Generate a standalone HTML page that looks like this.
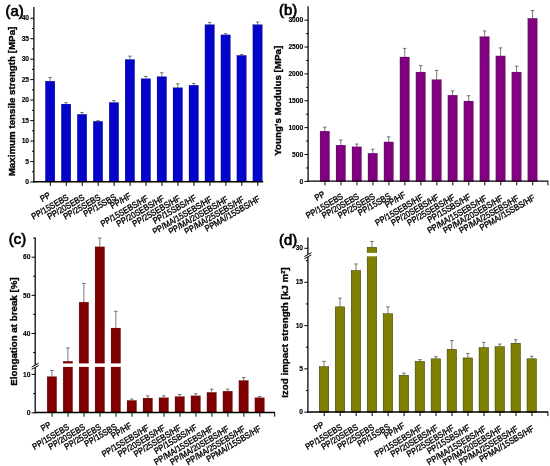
<!DOCTYPE html>
<html lang="en">
<head>
<meta charset="utf-8">
<title>Mechanical properties of PP composites</title>
<style>
html,body{margin:0;padding:0;background:#fff;}
body{width:550px;height:466px;overflow:hidden;}
svg{display:block;filter:blur(0.45px);}
text{font-family:"Liberation Sans",Arial,sans-serif;fill:#000;}
.xl{font-size:8.75px;stroke:#000;stroke-width:0.35px;}
.tl{font-size:7.3px;font-weight:bold;stroke:#000;stroke-width:0.12px;}
.yl{font-weight:bold;stroke:#000;stroke-width:0.35px;}
.pl{font-size:14px;stroke:#000;stroke-width:0.7px;font-family:"Liberation Sans","DejaVu Sans",sans-serif;}
.ax{stroke:#000;stroke-width:1.25px;}
.tk{stroke:#000;stroke-width:1.0;}
.eb{stroke:#2a2a2a;stroke-width:0.62;}
</style>
</head>
<body>
<svg width="550" height="466" viewBox="0 0 550 466">
<rect x="0" y="0" width="550" height="466" fill="#fff"/>
<line class="eb" x1="50.1" y1="81.13" x2="50.1" y2="77.45"/>
<line class="eb" x1="48.3" y1="77.45" x2="51.9" y2="77.45"/>
<rect x="45.33" y="81.13" width="9.55" height="100.87" fill="#0303ca" stroke="#000" stroke-opacity="0.55" stroke-width="0.3"/>
<line class="eb" x1="66.06" y1="104.07" x2="66.06" y2="102.63"/>
<line class="eb" x1="64.26" y1="102.63" x2="67.86" y2="102.63"/>
<rect x="61.29" y="104.07" width="9.55" height="77.93" fill="#0303ca" stroke="#000" stroke-opacity="0.55" stroke-width="0.3"/>
<line class="eb" x1="82.02" y1="114.3" x2="82.02" y2="112.46"/>
<line class="eb" x1="80.22" y1="112.46" x2="83.82" y2="112.46"/>
<rect x="77.25" y="114.3" width="9.55" height="67.7" fill="#0303ca" stroke="#000" stroke-opacity="0.55" stroke-width="0.3"/>
<line class="eb" x1="97.98" y1="121.26" x2="97.98" y2="120.65"/>
<line class="eb" x1="96.18" y1="120.65" x2="99.78" y2="120.65"/>
<rect x="93.2" y="121.26" width="9.55" height="60.74" fill="#0303ca" stroke="#000" stroke-opacity="0.55" stroke-width="0.3"/>
<line class="eb" x1="113.94" y1="102.43" x2="113.94" y2="100.58"/>
<line class="eb" x1="112.14" y1="100.58" x2="115.74" y2="100.58"/>
<rect x="109.16" y="102.43" width="9.55" height="79.57" fill="#0303ca" stroke="#000" stroke-opacity="0.55" stroke-width="0.3"/>
<line class="eb" x1="129.9" y1="59.43" x2="129.9" y2="56.15"/>
<line class="eb" x1="128.1" y1="56.15" x2="131.7" y2="56.15"/>
<rect x="125.12" y="59.43" width="9.55" height="122.57" fill="#0303ca" stroke="#000" stroke-opacity="0.55" stroke-width="0.3"/>
<line class="eb" x1="145.86" y1="78.68" x2="145.86" y2="76.42"/>
<line class="eb" x1="144.06" y1="76.42" x2="147.66" y2="76.42"/>
<rect x="141.09" y="78.68" width="9.55" height="103.32" fill="#0303ca" stroke="#000" stroke-opacity="0.55" stroke-width="0.3"/>
<line class="eb" x1="161.82" y1="76.63" x2="161.82" y2="72.74"/>
<line class="eb" x1="160.02" y1="72.74" x2="163.62" y2="72.74"/>
<rect x="157.04" y="76.63" width="9.55" height="105.37" fill="#0303ca" stroke="#000" stroke-opacity="0.55" stroke-width="0.3"/>
<line class="eb" x1="177.78" y1="87.69" x2="177.78" y2="83.8"/>
<line class="eb" x1="175.98" y1="83.8" x2="179.58" y2="83.8"/>
<rect x="173" y="87.69" width="9.55" height="94.31" fill="#0303ca" stroke="#000" stroke-opacity="0.55" stroke-width="0.3"/>
<line class="eb" x1="193.74" y1="85.23" x2="193.74" y2="83.39"/>
<line class="eb" x1="191.94" y1="83.39" x2="195.54" y2="83.39"/>
<rect x="188.97" y="85.23" width="9.55" height="96.77" fill="#0303ca" stroke="#000" stroke-opacity="0.55" stroke-width="0.3"/>
<line class="eb" x1="209.7" y1="24.62" x2="209.7" y2="22.37"/>
<line class="eb" x1="207.9" y1="22.37" x2="211.5" y2="22.37"/>
<rect x="204.93" y="24.62" width="9.55" height="157.38" fill="#0303ca" stroke="#000" stroke-opacity="0.55" stroke-width="0.3"/>
<line class="eb" x1="225.66" y1="34.86" x2="225.66" y2="33.63"/>
<line class="eb" x1="223.86" y1="33.63" x2="227.46" y2="33.63"/>
<rect x="220.88" y="34.86" width="9.55" height="147.14" fill="#0303ca" stroke="#000" stroke-opacity="0.55" stroke-width="0.3"/>
<line class="eb" x1="241.62" y1="55.34" x2="241.62" y2="54.52"/>
<line class="eb" x1="239.82" y1="54.52" x2="243.42" y2="54.52"/>
<rect x="236.84" y="55.34" width="9.55" height="126.66" fill="#0303ca" stroke="#000" stroke-opacity="0.55" stroke-width="0.3"/>
<line class="eb" x1="257.58" y1="24.62" x2="257.58" y2="21.96"/>
<line class="eb" x1="255.78" y1="21.96" x2="259.38" y2="21.96"/>
<rect x="252.81" y="24.62" width="9.55" height="157.38" fill="#0303ca" stroke="#000" stroke-opacity="0.55" stroke-width="0.3"/>
<line class="ax" x1="33.9" y1="7" x2="33.9" y2="182.5"/>
<line class="tk" x1="30.3" y1="182" x2="33.9" y2="182"/>
<text class="tl" transform="translate(29.1,184.15) scale(0.92,1)" text-anchor="end">0</text>
<line class="tk" x1="31.9" y1="171.76" x2="33.9" y2="171.76"/>
<line class="tk" x1="30.3" y1="161.53" x2="33.9" y2="161.53"/>
<text class="tl" transform="translate(29.1,163.68) scale(0.92,1)" text-anchor="end">5</text>
<line class="tk" x1="31.9" y1="151.29" x2="33.9" y2="151.29"/>
<line class="tk" x1="30.3" y1="141.05" x2="33.9" y2="141.05"/>
<text class="tl" transform="translate(29.1,143.2) scale(0.92,1)" text-anchor="end">10</text>
<line class="tk" x1="31.9" y1="130.81" x2="33.9" y2="130.81"/>
<line class="tk" x1="30.3" y1="120.58" x2="33.9" y2="120.58"/>
<text class="tl" transform="translate(29.1,122.73) scale(0.92,1)" text-anchor="end">15</text>
<line class="tk" x1="31.9" y1="110.34" x2="33.9" y2="110.34"/>
<line class="tk" x1="30.3" y1="100.1" x2="33.9" y2="100.1"/>
<text class="tl" transform="translate(29.1,102.25) scale(0.92,1)" text-anchor="end">20</text>
<line class="tk" x1="31.9" y1="89.86" x2="33.9" y2="89.86"/>
<line class="tk" x1="30.3" y1="79.62" x2="33.9" y2="79.62"/>
<text class="tl" transform="translate(29.1,81.78) scale(0.92,1)" text-anchor="end">25</text>
<line class="tk" x1="31.9" y1="69.39" x2="33.9" y2="69.39"/>
<line class="tk" x1="30.3" y1="59.15" x2="33.9" y2="59.15"/>
<text class="tl" transform="translate(29.1,61.3) scale(0.92,1)" text-anchor="end">30</text>
<line class="tk" x1="31.9" y1="48.91" x2="33.9" y2="48.91"/>
<line class="tk" x1="30.3" y1="38.68" x2="33.9" y2="38.68"/>
<text class="tl" transform="translate(29.1,40.83) scale(0.92,1)" text-anchor="end">35</text>
<line class="tk" x1="31.9" y1="28.44" x2="33.9" y2="28.44"/>
<line class="tk" x1="30.3" y1="18.2" x2="33.9" y2="18.2"/>
<text class="tl" transform="translate(29.1,20.35) scale(0.92,1)" text-anchor="end">40</text>
<line class="ax" style="stroke-width:1.45px" x1="33.4" y1="181.7" x2="263.2" y2="181.7"/>
<line class="tk" x1="50.3" y1="182" x2="50.3" y2="185.9"/>
<line class="tk" x1="66.26" y1="182" x2="66.26" y2="185.9"/>
<line class="tk" x1="82.22" y1="182" x2="82.22" y2="185.9"/>
<line class="tk" x1="98.18" y1="182" x2="98.18" y2="185.9"/>
<line class="tk" x1="114.14" y1="182" x2="114.14" y2="185.9"/>
<line class="tk" x1="130.1" y1="182" x2="130.1" y2="185.9"/>
<line class="tk" x1="146.06" y1="182" x2="146.06" y2="185.9"/>
<line class="tk" x1="162.02" y1="182" x2="162.02" y2="185.9"/>
<line class="tk" x1="177.98" y1="182" x2="177.98" y2="185.9"/>
<line class="tk" x1="193.94" y1="182" x2="193.94" y2="185.9"/>
<line class="tk" x1="209.9" y1="182" x2="209.9" y2="185.9"/>
<line class="tk" x1="225.86" y1="182" x2="225.86" y2="185.9"/>
<line class="tk" x1="241.82" y1="182" x2="241.82" y2="185.9"/>
<line class="tk" x1="257.78" y1="182" x2="257.78" y2="185.9"/>
<text class="xl" transform="translate(51.11,196.86) rotate(-30) scale(0.875,1)" text-anchor="end">PP</text>
<text class="xl" transform="translate(69.26,199.17) rotate(-30) scale(0.875,1)" text-anchor="end">PP/15SEBS</text>
<text class="xl" transform="translate(85.22,199.17) rotate(-30) scale(0.875,1)" text-anchor="end">PP/20SEBS</text>
<text class="xl" transform="translate(101.18,199.17) rotate(-30) scale(0.875,1)" text-anchor="end">PP/25SEBS</text>
<text class="xl" transform="translate(116.84,198.79) rotate(-30) scale(0.875,1)" text-anchor="end">PP/15SBS</text>
<text class="xl" transform="translate(131.81,197.78) rotate(-30) scale(0.875,1)" text-anchor="end">PP/HF</text>
<text class="xl" transform="translate(149.06,200.09) rotate(-30) scale(0.875,1)" text-anchor="end">PP/15SEBS/HF</text>
<text class="xl" transform="translate(165.02,200.09) rotate(-30) scale(0.875,1)" text-anchor="end">PP/20SEBS/HF</text>
<text class="xl" transform="translate(180.98,200.09) rotate(-30) scale(0.875,1)" text-anchor="end">PP/25SEBS/HF</text>
<text class="xl" transform="translate(196.94,199.71) rotate(-30) scale(0.875,1)" text-anchor="end">PP/15SBS/HF</text>
<text class="xl" transform="translate(212.9,201.11) rotate(-30) scale(0.875,1)" text-anchor="end">PP/MA/15SEBS/HF</text>
<text class="xl" transform="translate(228.86,201.11) rotate(-30) scale(0.875,1)" text-anchor="end">PP/MA/20SEBS/HF</text>
<text class="xl" transform="translate(244.82,201.11) rotate(-30) scale(0.875,1)" text-anchor="end">PP/MA/25SEBS/HF</text>
<text class="xl" transform="translate(260.78,200.72) rotate(-30) scale(0.875,1)" text-anchor="end">PPMA//15SBS/HF</text>
<text class="yl" font-size="9.77" transform="translate(15,101.5) scale(0.9,1) rotate(-90)" text-anchor="middle">Maximum tensile strength [MPa]</text>
<text class="pl" transform="translate(5.6,15.8) scale(1.06,1)">(a)</text>
<line class="eb" x1="324.8" y1="131.16" x2="324.8" y2="127.13"/>
<line class="eb" x1="323" y1="127.13" x2="326.6" y2="127.13"/>
<rect x="320.03" y="131.16" width="9.55" height="50.24" fill="#800080" stroke="#000" stroke-opacity="0.55" stroke-width="0.3"/>
<line class="eb" x1="340.78" y1="145.14" x2="340.78" y2="140.03"/>
<line class="eb" x1="338.98" y1="140.03" x2="342.58" y2="140.03"/>
<rect x="336.01" y="145.14" width="9.55" height="36.26" fill="#800080" stroke="#000" stroke-opacity="0.55" stroke-width="0.3"/>
<line class="eb" x1="356.76" y1="146.75" x2="356.76" y2="144.06"/>
<line class="eb" x1="354.96" y1="144.06" x2="358.56" y2="144.06"/>
<rect x="351.99" y="146.75" width="9.55" height="34.65" fill="#800080" stroke="#000" stroke-opacity="0.55" stroke-width="0.3"/>
<line class="eb" x1="372.74" y1="153.2" x2="372.74" y2="149.17"/>
<line class="eb" x1="370.94" y1="149.17" x2="374.54" y2="149.17"/>
<rect x="367.97" y="153.2" width="9.55" height="28.2" fill="#800080" stroke="#000" stroke-opacity="0.55" stroke-width="0.3"/>
<line class="eb" x1="388.72" y1="141.91" x2="388.72" y2="136.81"/>
<line class="eb" x1="386.92" y1="136.81" x2="390.52" y2="136.81"/>
<rect x="383.95" y="141.91" width="9.55" height="39.49" fill="#800080" stroke="#000" stroke-opacity="0.55" stroke-width="0.3"/>
<line class="eb" x1="404.7" y1="57" x2="404.7" y2="48.4"/>
<line class="eb" x1="402.9" y1="48.4" x2="406.5" y2="48.4"/>
<rect x="399.93" y="57" width="9.55" height="124.4" fill="#800080" stroke="#000" stroke-opacity="0.55" stroke-width="0.3"/>
<line class="eb" x1="420.68" y1="72.05" x2="420.68" y2="65.6"/>
<line class="eb" x1="418.88" y1="65.6" x2="422.48" y2="65.6"/>
<rect x="415.91" y="72.05" width="9.55" height="109.35" fill="#800080" stroke="#000" stroke-opacity="0.55" stroke-width="0.3"/>
<line class="eb" x1="436.66" y1="79.57" x2="436.66" y2="70.44"/>
<line class="eb" x1="434.86" y1="70.44" x2="438.46" y2="70.44"/>
<rect x="431.89" y="79.57" width="9.55" height="101.83" fill="#800080" stroke="#000" stroke-opacity="0.55" stroke-width="0.3"/>
<line class="eb" x1="452.64" y1="95.16" x2="452.64" y2="90.86"/>
<line class="eb" x1="450.84" y1="90.86" x2="454.44" y2="90.86"/>
<rect x="447.87" y="95.16" width="9.55" height="86.24" fill="#800080" stroke="#000" stroke-opacity="0.55" stroke-width="0.3"/>
<line class="eb" x1="468.62" y1="101.07" x2="468.62" y2="95.7"/>
<line class="eb" x1="466.82" y1="95.7" x2="470.42" y2="95.7"/>
<rect x="463.85" y="101.07" width="9.55" height="80.33" fill="#800080" stroke="#000" stroke-opacity="0.55" stroke-width="0.3"/>
<line class="eb" x1="484.6" y1="36.58" x2="484.6" y2="30.94"/>
<line class="eb" x1="482.8" y1="30.94" x2="486.4" y2="30.94"/>
<rect x="479.83" y="36.58" width="9.55" height="144.82" fill="#800080" stroke="#000" stroke-opacity="0.55" stroke-width="0.3"/>
<line class="eb" x1="500.58" y1="55.93" x2="500.58" y2="47.87"/>
<line class="eb" x1="498.78" y1="47.87" x2="502.38" y2="47.87"/>
<rect x="495.81" y="55.93" width="9.55" height="125.47" fill="#800080" stroke="#000" stroke-opacity="0.55" stroke-width="0.3"/>
<line class="eb" x1="516.56" y1="72.05" x2="516.56" y2="66.14"/>
<line class="eb" x1="514.76" y1="66.14" x2="518.36" y2="66.14"/>
<rect x="511.78" y="72.05" width="9.55" height="109.35" fill="#800080" stroke="#000" stroke-opacity="0.55" stroke-width="0.3"/>
<line class="eb" x1="532.54" y1="18.31" x2="532.54" y2="10.52"/>
<line class="eb" x1="530.74" y1="10.52" x2="534.34" y2="10.52"/>
<rect x="527.76" y="18.31" width="9.55" height="163.09" fill="#800080" stroke="#000" stroke-opacity="0.55" stroke-width="0.3"/>
<line class="ax" x1="308.1" y1="6.3" x2="308.1" y2="181.9"/>
<line class="tk" x1="304.5" y1="181.4" x2="308.1" y2="181.4"/>
<text class="tl" transform="translate(303.3,183.55) scale(0.92,1)" text-anchor="end">0</text>
<line class="tk" x1="306.1" y1="167.97" x2="308.1" y2="167.97"/>
<line class="tk" x1="304.5" y1="154.53" x2="308.1" y2="154.53"/>
<text class="tl" transform="translate(303.3,156.68) scale(0.92,1)" text-anchor="end">500</text>
<line class="tk" x1="306.1" y1="141.09" x2="308.1" y2="141.09"/>
<line class="tk" x1="304.5" y1="127.66" x2="308.1" y2="127.66"/>
<text class="tl" transform="translate(303.3,129.81) scale(0.92,1)" text-anchor="end">1000</text>
<line class="tk" x1="306.1" y1="114.23" x2="308.1" y2="114.23"/>
<line class="tk" x1="304.5" y1="100.79" x2="308.1" y2="100.79"/>
<text class="tl" transform="translate(303.3,102.94) scale(0.92,1)" text-anchor="end">1500</text>
<line class="tk" x1="306.1" y1="87.36" x2="308.1" y2="87.36"/>
<line class="tk" x1="304.5" y1="73.92" x2="308.1" y2="73.92"/>
<text class="tl" transform="translate(303.3,76.07) scale(0.92,1)" text-anchor="end">2000</text>
<line class="tk" x1="306.1" y1="60.48" x2="308.1" y2="60.48"/>
<line class="tk" x1="304.5" y1="47.05" x2="308.1" y2="47.05"/>
<text class="tl" transform="translate(303.3,49.2) scale(0.92,1)" text-anchor="end">2500</text>
<line class="tk" x1="306.1" y1="33.62" x2="308.1" y2="33.62"/>
<line class="tk" x1="304.5" y1="20.18" x2="308.1" y2="20.18"/>
<text class="tl" transform="translate(303.3,22.33) scale(0.92,1)" text-anchor="end">3000</text>
<line class="ax" style="stroke-width:1.45px" x1="307.6" y1="181.1" x2="548.2" y2="181.1"/>
<line class="tk" x1="325" y1="181.4" x2="325" y2="185.3"/>
<line class="tk" x1="340.98" y1="181.4" x2="340.98" y2="185.3"/>
<line class="tk" x1="356.96" y1="181.4" x2="356.96" y2="185.3"/>
<line class="tk" x1="372.94" y1="181.4" x2="372.94" y2="185.3"/>
<line class="tk" x1="388.92" y1="181.4" x2="388.92" y2="185.3"/>
<line class="tk" x1="404.9" y1="181.4" x2="404.9" y2="185.3"/>
<line class="tk" x1="420.88" y1="181.4" x2="420.88" y2="185.3"/>
<line class="tk" x1="436.86" y1="181.4" x2="436.86" y2="185.3"/>
<line class="tk" x1="452.84" y1="181.4" x2="452.84" y2="185.3"/>
<line class="tk" x1="468.82" y1="181.4" x2="468.82" y2="185.3"/>
<line class="tk" x1="484.8" y1="181.4" x2="484.8" y2="185.3"/>
<line class="tk" x1="500.78" y1="181.4" x2="500.78" y2="185.3"/>
<line class="tk" x1="516.76" y1="181.4" x2="516.76" y2="185.3"/>
<line class="tk" x1="532.74" y1="181.4" x2="532.74" y2="185.3"/>
<line class="tk" x1="547.9" y1="181.4" x2="547.9" y2="185.3"/>
<text class="xl" transform="translate(325.61,195.86) rotate(-30) scale(0.875,1)" text-anchor="end">PP</text>
<text class="xl" transform="translate(343.78,198.17) rotate(-30) scale(0.875,1)" text-anchor="end">PP/15SEBS</text>
<text class="xl" transform="translate(359.76,198.17) rotate(-30) scale(0.875,1)" text-anchor="end">PP/20SEBS</text>
<text class="xl" transform="translate(375.74,198.17) rotate(-30) scale(0.875,1)" text-anchor="end">PP/25SEBS</text>
<text class="xl" transform="translate(391.42,197.79) rotate(-30) scale(0.875,1)" text-anchor="end">PP/15SBS</text>
<text class="xl" transform="translate(406.41,196.78) rotate(-30) scale(0.875,1)" text-anchor="end">PP/HF</text>
<text class="xl" transform="translate(423.68,199.09) rotate(-30) scale(0.875,1)" text-anchor="end">PP/15SEBS/HF</text>
<text class="xl" transform="translate(439.66,199.09) rotate(-30) scale(0.875,1)" text-anchor="end">PP/20SEBS/HF</text>
<text class="xl" transform="translate(455.64,199.09) rotate(-30) scale(0.875,1)" text-anchor="end">PP/25SEBS/HF</text>
<text class="xl" transform="translate(471.62,198.71) rotate(-30) scale(0.875,1)" text-anchor="end">PP/15SBS/HF</text>
<text class="xl" transform="translate(487.6,200.11) rotate(-30) scale(0.875,1)" text-anchor="end">PP/MA/15SEBS/HF</text>
<text class="xl" transform="translate(503.58,200.11) rotate(-30) scale(0.875,1)" text-anchor="end">PP/MA/20SEBS/HF</text>
<text class="xl" transform="translate(519.56,200.11) rotate(-30) scale(0.875,1)" text-anchor="end">PP/MA/25SEBS/HF</text>
<text class="xl" transform="translate(535.54,199.72) rotate(-30) scale(0.875,1)" text-anchor="end">PPMA//15SBS/HF</text>
<text class="yl" font-size="9.81" transform="translate(280.9,100.7) scale(0.96,1) rotate(-90)" text-anchor="middle">Young's Modulus [MPa]</text>
<text class="pl" transform="translate(279,15.2) scale(1.06,1)">(b)</text>
<rect x="0" y="233.4" width="550" height="8" fill="#fff"/>
<line class="eb" x1="51.9" y1="376.6" x2="51.9" y2="370.46"/>
<line class="eb" x1="50.1" y1="370.46" x2="53.7" y2="370.46"/>
<rect x="47.12" y="376.6" width="9.55" height="36.2" fill="#800000" stroke="#000" stroke-opacity="0.55" stroke-width="0.3"/>
<line class="eb" x1="67.88" y1="361.25" x2="67.88" y2="347.9"/>
<line class="eb" x1="66.08" y1="347.9" x2="69.68" y2="347.9"/>
<rect x="63.1" y="361.25" width="9.55" height="51.55" fill="#800000" stroke="#000" stroke-opacity="0.55" stroke-width="0.3"/>
<line class="eb" x1="83.86" y1="302.12" x2="83.86" y2="283.42"/>
<line class="eb" x1="82.06" y1="283.42" x2="85.66" y2="283.42"/>
<rect x="79.08" y="302.12" width="9.55" height="110.68" fill="#800000" stroke="#000" stroke-opacity="0.55" stroke-width="0.3"/>
<line class="eb" x1="99.84" y1="246.8" x2="99.84" y2="238.02"/>
<line class="eb" x1="98.04" y1="238.02" x2="101.64" y2="238.02"/>
<rect x="95.06" y="246.8" width="9.55" height="166" fill="#800000" stroke="#000" stroke-opacity="0.55" stroke-width="0.3"/>
<line class="eb" x1="115.82" y1="328.06" x2="115.82" y2="311.27"/>
<line class="eb" x1="114.02" y1="311.27" x2="117.62" y2="311.27"/>
<rect x="111.04" y="328.06" width="9.55" height="84.74" fill="#800000" stroke="#000" stroke-opacity="0.55" stroke-width="0.3"/>
<line class="eb" x1="131.8" y1="400.41" x2="131.8" y2="399.06"/>
<line class="eb" x1="130" y1="399.06" x2="133.6" y2="399.06"/>
<rect x="127.03" y="400.41" width="9.55" height="12.39" fill="#800000" stroke="#000" stroke-opacity="0.55" stroke-width="0.3"/>
<line class="eb" x1="147.78" y1="398.1" x2="147.78" y2="395.8"/>
<line class="eb" x1="145.98" y1="395.8" x2="149.58" y2="395.8"/>
<rect x="143" y="398.1" width="9.55" height="14.7" fill="#800000" stroke="#000" stroke-opacity="0.55" stroke-width="0.3"/>
<line class="eb" x1="163.76" y1="397.72" x2="163.76" y2="395.8"/>
<line class="eb" x1="161.96" y1="395.8" x2="165.56" y2="395.8"/>
<rect x="158.98" y="397.72" width="9.55" height="15.08" fill="#800000" stroke="#000" stroke-opacity="0.55" stroke-width="0.3"/>
<line class="eb" x1="179.74" y1="396.57" x2="179.74" y2="394.46"/>
<line class="eb" x1="177.94" y1="394.46" x2="181.54" y2="394.46"/>
<rect x="174.97" y="396.57" width="9.55" height="16.23" fill="#800000" stroke="#000" stroke-opacity="0.55" stroke-width="0.3"/>
<line class="eb" x1="195.72" y1="395.8" x2="195.72" y2="393.69"/>
<line class="eb" x1="193.92" y1="393.69" x2="197.52" y2="393.69"/>
<rect x="190.94" y="395.8" width="9.55" height="17" fill="#800000" stroke="#000" stroke-opacity="0.55" stroke-width="0.3"/>
<line class="eb" x1="211.7" y1="392.34" x2="211.7" y2="389.08"/>
<line class="eb" x1="209.9" y1="389.08" x2="213.5" y2="389.08"/>
<rect x="206.93" y="392.34" width="9.55" height="20.46" fill="#800000" stroke="#000" stroke-opacity="0.55" stroke-width="0.3"/>
<line class="eb" x1="227.68" y1="391.19" x2="227.68" y2="389.08"/>
<line class="eb" x1="225.88" y1="389.08" x2="229.48" y2="389.08"/>
<rect x="222.91" y="391.19" width="9.55" height="21.61" fill="#800000" stroke="#000" stroke-opacity="0.55" stroke-width="0.3"/>
<line class="eb" x1="243.66" y1="380.44" x2="243.66" y2="377.56"/>
<line class="eb" x1="241.86" y1="377.56" x2="245.46" y2="377.56"/>
<rect x="238.88" y="380.44" width="9.55" height="32.36" fill="#800000" stroke="#000" stroke-opacity="0.55" stroke-width="0.3"/>
<line class="eb" x1="259.64" y1="397.72" x2="259.64" y2="396.57"/>
<line class="eb" x1="257.84" y1="396.57" x2="261.44" y2="396.57"/>
<rect x="254.86" y="397.72" width="9.55" height="15.08" fill="#800000" stroke="#000" stroke-opacity="0.55" stroke-width="0.3"/>
<rect x="41.2" y="363.4" width="80.39" height="3.5" fill="#fff"/>
<line class="ax" x1="35.2" y1="237.6" x2="35.2" y2="413.3"/>
<rect x="33.2" y="364.9" width="4" height="2.7" fill="#fff"/>
<line class="tk" x1="31.7" y1="367.1" x2="38.7" y2="363.1"/>
<line class="tk" x1="31.7" y1="369.4" x2="38.7" y2="365.4"/>
<line class="tk" x1="31.6" y1="412.8" x2="35.2" y2="412.8"/>
<text class="tl" transform="translate(30.4,414.95) scale(0.92,1)" text-anchor="end">0</text>
<line class="tk" x1="31.6" y1="374.4" x2="35.2" y2="374.4"/>
<text class="tl" transform="translate(30.4,376.55) scale(0.92,1)" text-anchor="end">10</text>
<line class="tk" x1="31.6" y1="333.5" x2="35.2" y2="333.5"/>
<text class="tl" transform="translate(30.4,335.65) scale(0.92,1)" text-anchor="end">40</text>
<line class="tk" x1="31.6" y1="295.35" x2="35.2" y2="295.35"/>
<text class="tl" transform="translate(30.4,297.5) scale(0.92,1)" text-anchor="end">50</text>
<line class="tk" x1="31.6" y1="257.2" x2="35.2" y2="257.2"/>
<text class="tl" transform="translate(30.4,259.35) scale(0.92,1)" text-anchor="end">60</text>
<line class="tk" x1="33.2" y1="393.6" x2="35.2" y2="393.6"/>
<line class="tk" x1="33.2" y1="352.57" x2="35.2" y2="352.57"/>
<line class="tk" x1="33.2" y1="314.43" x2="35.2" y2="314.43"/>
<line class="tk" x1="33.2" y1="276.27" x2="35.2" y2="276.27"/>
<line class="tk" x1="33.2" y1="238.12" x2="35.2" y2="238.12"/>
<line class="ax" style="stroke-width:1.45px" x1="34.7" y1="412.5" x2="275" y2="412.5"/>
<line class="tk" x1="52.1" y1="412.8" x2="52.1" y2="416.7"/>
<line class="tk" x1="68.08" y1="412.8" x2="68.08" y2="416.7"/>
<line class="tk" x1="84.06" y1="412.8" x2="84.06" y2="416.7"/>
<line class="tk" x1="100.04" y1="412.8" x2="100.04" y2="416.7"/>
<line class="tk" x1="116.02" y1="412.8" x2="116.02" y2="416.7"/>
<line class="tk" x1="132" y1="412.8" x2="132" y2="416.7"/>
<line class="tk" x1="147.98" y1="412.8" x2="147.98" y2="416.7"/>
<line class="tk" x1="163.96" y1="412.8" x2="163.96" y2="416.7"/>
<line class="tk" x1="179.94" y1="412.8" x2="179.94" y2="416.7"/>
<line class="tk" x1="195.92" y1="412.8" x2="195.92" y2="416.7"/>
<line class="tk" x1="211.9" y1="412.8" x2="211.9" y2="416.7"/>
<line class="tk" x1="227.88" y1="412.8" x2="227.88" y2="416.7"/>
<line class="tk" x1="243.86" y1="412.8" x2="243.86" y2="416.7"/>
<line class="tk" x1="259.84" y1="412.8" x2="259.84" y2="416.7"/>
<line class="tk" x1="274.7" y1="412.8" x2="274.7" y2="416.7"/>
<text class="xl" transform="translate(51.81,426.36) rotate(-31) scale(0.875,1)" text-anchor="end">PP</text>
<text class="xl" transform="translate(69.98,428.67) rotate(-31) scale(0.875,1)" text-anchor="end">PP/15SEBS</text>
<text class="xl" transform="translate(85.96,428.67) rotate(-31) scale(0.875,1)" text-anchor="end">PP/20SEBS</text>
<text class="xl" transform="translate(101.94,428.67) rotate(-31) scale(0.875,1)" text-anchor="end">PP/25SEBS</text>
<text class="xl" transform="translate(117.62,428.29) rotate(-31) scale(0.875,1)" text-anchor="end">PP/15SBS</text>
<text class="xl" transform="translate(132.61,427.28) rotate(-31) scale(0.875,1)" text-anchor="end">PP/HF</text>
<text class="xl" transform="translate(149.88,429.59) rotate(-31) scale(0.875,1)" text-anchor="end">PP/15SEBS/HF</text>
<text class="xl" transform="translate(165.86,429.59) rotate(-31) scale(0.875,1)" text-anchor="end">PP/20SEBS/HF</text>
<text class="xl" transform="translate(181.84,429.59) rotate(-31) scale(0.875,1)" text-anchor="end">PP/25SEBS/HF</text>
<text class="xl" transform="translate(197.82,429.21) rotate(-31) scale(0.875,1)" text-anchor="end">PP/15SBS/HF</text>
<text class="xl" transform="translate(213.8,430.61) rotate(-31) scale(0.875,1)" text-anchor="end">PP/MA/15SEBS/HF</text>
<text class="xl" transform="translate(229.78,430.61) rotate(-31) scale(0.875,1)" text-anchor="end">PP/MA/20SEBS/HF</text>
<text class="xl" transform="translate(245.76,430.61) rotate(-31) scale(0.875,1)" text-anchor="end">PP/MA/25SEBS/HF</text>
<text class="xl" transform="translate(261.74,430.22) rotate(-31) scale(0.875,1)" text-anchor="end">PPMA//15SBS/HF</text>
<text class="yl" font-size="9.76" transform="translate(16.8,331.55) scale(0.96,1) rotate(-90)" text-anchor="middle">Elongation at break [%]</text>
<text class="pl" transform="translate(8.8,244.2) scale(1.06,1)">(c)</text>
<line class="eb" x1="324" y1="366.58" x2="324" y2="361.39"/>
<line class="eb" x1="322.2" y1="361.39" x2="325.8" y2="361.39"/>
<rect x="319.23" y="366.58" width="9.55" height="45.62" fill="#808000" stroke="#1e1e00" stroke-opacity="0.9" stroke-width="0.45"/>
<line class="eb" x1="339.98" y1="306.83" x2="339.98" y2="298.17"/>
<line class="eb" x1="338.18" y1="298.17" x2="341.78" y2="298.17"/>
<rect x="335.21" y="306.83" width="9.55" height="105.37" fill="#808000" stroke="#1e1e00" stroke-opacity="0.9" stroke-width="0.45"/>
<line class="eb" x1="355.96" y1="270.46" x2="355.96" y2="263.96"/>
<line class="eb" x1="354.16" y1="263.96" x2="357.76" y2="263.96"/>
<rect x="351.19" y="270.46" width="9.55" height="141.74" fill="#808000" stroke="#1e1e00" stroke-opacity="0.9" stroke-width="0.45"/>
<line class="eb" x1="371.94" y1="247.28" x2="371.94" y2="241.38"/>
<line class="eb" x1="370.14" y1="241.38" x2="373.74" y2="241.38"/>
<rect x="367.17" y="247.28" width="9.55" height="164.92" fill="#808000" stroke="#1e1e00" stroke-opacity="0.9" stroke-width="0.45"/>
<line class="eb" x1="387.92" y1="313.76" x2="387.92" y2="306.83"/>
<line class="eb" x1="386.12" y1="306.83" x2="389.72" y2="306.83"/>
<rect x="383.15" y="313.76" width="9.55" height="98.44" fill="#808000" stroke="#1e1e00" stroke-opacity="0.9" stroke-width="0.45"/>
<line class="eb" x1="403.9" y1="375.24" x2="403.9" y2="373.08"/>
<line class="eb" x1="402.1" y1="373.08" x2="405.7" y2="373.08"/>
<rect x="399.12" y="375.24" width="9.55" height="36.96" fill="#808000" stroke="#1e1e00" stroke-opacity="0.9" stroke-width="0.45"/>
<line class="eb" x1="419.88" y1="361.39" x2="419.88" y2="359.65"/>
<line class="eb" x1="418.08" y1="359.65" x2="421.68" y2="359.65"/>
<rect x="415.11" y="361.39" width="9.55" height="50.81" fill="#808000" stroke="#1e1e00" stroke-opacity="0.9" stroke-width="0.45"/>
<line class="eb" x1="435.86" y1="358.79" x2="435.86" y2="356.62"/>
<line class="eb" x1="434.06" y1="356.62" x2="437.66" y2="356.62"/>
<rect x="431.09" y="358.79" width="9.55" height="53.41" fill="#808000" stroke="#1e1e00" stroke-opacity="0.9" stroke-width="0.45"/>
<line class="eb" x1="451.84" y1="349.26" x2="451.84" y2="340.6"/>
<line class="eb" x1="450.04" y1="340.6" x2="453.64" y2="340.6"/>
<rect x="447.07" y="349.26" width="9.55" height="62.94" fill="#808000" stroke="#1e1e00" stroke-opacity="0.9" stroke-width="0.45"/>
<line class="eb" x1="467.82" y1="357.92" x2="467.82" y2="353.59"/>
<line class="eb" x1="466.02" y1="353.59" x2="469.62" y2="353.59"/>
<rect x="463.05" y="357.92" width="9.55" height="54.28" fill="#808000" stroke="#1e1e00" stroke-opacity="0.9" stroke-width="0.45"/>
<line class="eb" x1="483.8" y1="347.53" x2="483.8" y2="342.33"/>
<line class="eb" x1="482" y1="342.33" x2="485.6" y2="342.33"/>
<rect x="479.03" y="347.53" width="9.55" height="64.67" fill="#808000" stroke="#1e1e00" stroke-opacity="0.9" stroke-width="0.45"/>
<line class="eb" x1="499.78" y1="346.66" x2="499.78" y2="344.07"/>
<line class="eb" x1="497.98" y1="344.07" x2="501.58" y2="344.07"/>
<rect x="495" y="346.66" width="9.55" height="65.54" fill="#808000" stroke="#1e1e00" stroke-opacity="0.9" stroke-width="0.45"/>
<line class="eb" x1="515.76" y1="343.2" x2="515.76" y2="339.74"/>
<line class="eb" x1="513.96" y1="339.74" x2="517.56" y2="339.74"/>
<rect x="510.99" y="343.2" width="9.55" height="69" fill="#808000" stroke="#1e1e00" stroke-opacity="0.9" stroke-width="0.45"/>
<line class="eb" x1="531.74" y1="358.79" x2="531.74" y2="356.19"/>
<line class="eb" x1="529.94" y1="356.19" x2="533.54" y2="356.19"/>
<rect x="526.97" y="358.79" width="9.55" height="53.41" fill="#808000" stroke="#1e1e00" stroke-opacity="0.9" stroke-width="0.45"/>
<rect x="366.17" y="252.9" width="11.55" height="3.4" fill="#fff"/>
<line class="ax" x1="307.9" y1="237.6" x2="307.9" y2="412.7"/>
<rect x="305.9" y="254.4" width="4" height="2.6" fill="#fff"/>
<line class="tk" x1="304.4" y1="256.6" x2="311.4" y2="252.6"/>
<line class="tk" x1="304.4" y1="258.8" x2="311.4" y2="254.8"/>
<line class="tk" x1="304.3" y1="412.2" x2="307.9" y2="412.2"/>
<text class="tl" transform="translate(303.1,414.35) scale(0.92,1)" text-anchor="end">0</text>
<line class="tk" x1="304.3" y1="368.9" x2="307.9" y2="368.9"/>
<text class="tl" transform="translate(303.1,371.05) scale(0.92,1)" text-anchor="end">5</text>
<line class="tk" x1="304.3" y1="325.6" x2="307.9" y2="325.6"/>
<text class="tl" transform="translate(303.1,327.75) scale(0.92,1)" text-anchor="end">10</text>
<line class="tk" x1="304.3" y1="282.3" x2="307.9" y2="282.3"/>
<text class="tl" transform="translate(303.1,284.45) scale(0.92,1)" text-anchor="end">15</text>
<line class="tk" x1="305.9" y1="390.55" x2="307.9" y2="390.55"/>
<line class="tk" x1="305.9" y1="347.25" x2="307.9" y2="347.25"/>
<line class="tk" x1="305.9" y1="303.95" x2="307.9" y2="303.95"/>
<line class="tk" x1="305.9" y1="260.65" x2="307.9" y2="260.65"/>
<line class="tk" x1="304.3" y1="248.3" x2="307.9" y2="248.3"/>
<text class="tl" transform="translate(303.1,250.45) scale(0.92,1)" text-anchor="end">30</text>
<line class="ax" style="stroke-width:1.45px" x1="307.4" y1="411.9" x2="548.2" y2="411.9"/>
<line class="tk" x1="324.2" y1="412.2" x2="324.2" y2="416.1"/>
<line class="tk" x1="340.18" y1="412.2" x2="340.18" y2="416.1"/>
<line class="tk" x1="356.16" y1="412.2" x2="356.16" y2="416.1"/>
<line class="tk" x1="372.14" y1="412.2" x2="372.14" y2="416.1"/>
<line class="tk" x1="388.12" y1="412.2" x2="388.12" y2="416.1"/>
<line class="tk" x1="404.1" y1="412.2" x2="404.1" y2="416.1"/>
<line class="tk" x1="420.08" y1="412.2" x2="420.08" y2="416.1"/>
<line class="tk" x1="436.06" y1="412.2" x2="436.06" y2="416.1"/>
<line class="tk" x1="452.04" y1="412.2" x2="452.04" y2="416.1"/>
<line class="tk" x1="468.02" y1="412.2" x2="468.02" y2="416.1"/>
<line class="tk" x1="484" y1="412.2" x2="484" y2="416.1"/>
<line class="tk" x1="499.98" y1="412.2" x2="499.98" y2="416.1"/>
<line class="tk" x1="515.96" y1="412.2" x2="515.96" y2="416.1"/>
<line class="tk" x1="531.94" y1="412.2" x2="531.94" y2="416.1"/>
<line class="tk" x1="547.92" y1="412.2" x2="547.92" y2="416.1"/>
<text class="xl" transform="translate(324.71,426.46) rotate(-31) scale(0.875,1)" text-anchor="end">PP</text>
<text class="xl" transform="translate(342.88,428.77) rotate(-31) scale(0.875,1)" text-anchor="end">PP/15SEBS</text>
<text class="xl" transform="translate(358.86,428.77) rotate(-31) scale(0.875,1)" text-anchor="end">PP/20SEBS</text>
<text class="xl" transform="translate(374.84,428.77) rotate(-31) scale(0.875,1)" text-anchor="end">PP/25SEBS</text>
<text class="xl" transform="translate(390.52,428.39) rotate(-31) scale(0.875,1)" text-anchor="end">PP/15SBS</text>
<text class="xl" transform="translate(405.51,427.38) rotate(-31) scale(0.875,1)" text-anchor="end">PP/HF</text>
<text class="xl" transform="translate(422.78,429.69) rotate(-31) scale(0.875,1)" text-anchor="end">PP/15SEBS/HF</text>
<text class="xl" transform="translate(438.76,429.69) rotate(-31) scale(0.875,1)" text-anchor="end">PP/20SEBS/HF</text>
<text class="xl" transform="translate(454.74,429.69) rotate(-31) scale(0.875,1)" text-anchor="end">PP/25SEBS/HF</text>
<text class="xl" transform="translate(470.72,429.31) rotate(-31) scale(0.875,1)" text-anchor="end">PP/15SBS/HF</text>
<text class="xl" transform="translate(486.7,430.71) rotate(-31) scale(0.875,1)" text-anchor="end">PP/MA/15SEBS/HF</text>
<text class="xl" transform="translate(502.68,430.71) rotate(-31) scale(0.875,1)" text-anchor="end">PP/MA/20SEBS/HF</text>
<text class="xl" transform="translate(518.66,430.71) rotate(-31) scale(0.875,1)" text-anchor="end">PP/MA/25SEBS/HF</text>
<text class="xl" transform="translate(534.64,430.32) rotate(-31) scale(0.875,1)" text-anchor="end">PPMA//15SBS/HF</text>
<text class="yl" font-size="9.8" transform="translate(287.9,332.7) scale(0.95,1) rotate(-90)" text-anchor="middle">Izod impact strength [kJ m<tspan font-size="5.5" dy="-3.4">2</tspan><tspan dy="3.4">]</tspan></text>
<text class="pl" transform="translate(279,244.6) scale(1.06,1)">(d)</text>
</svg>
</body>
</html>
